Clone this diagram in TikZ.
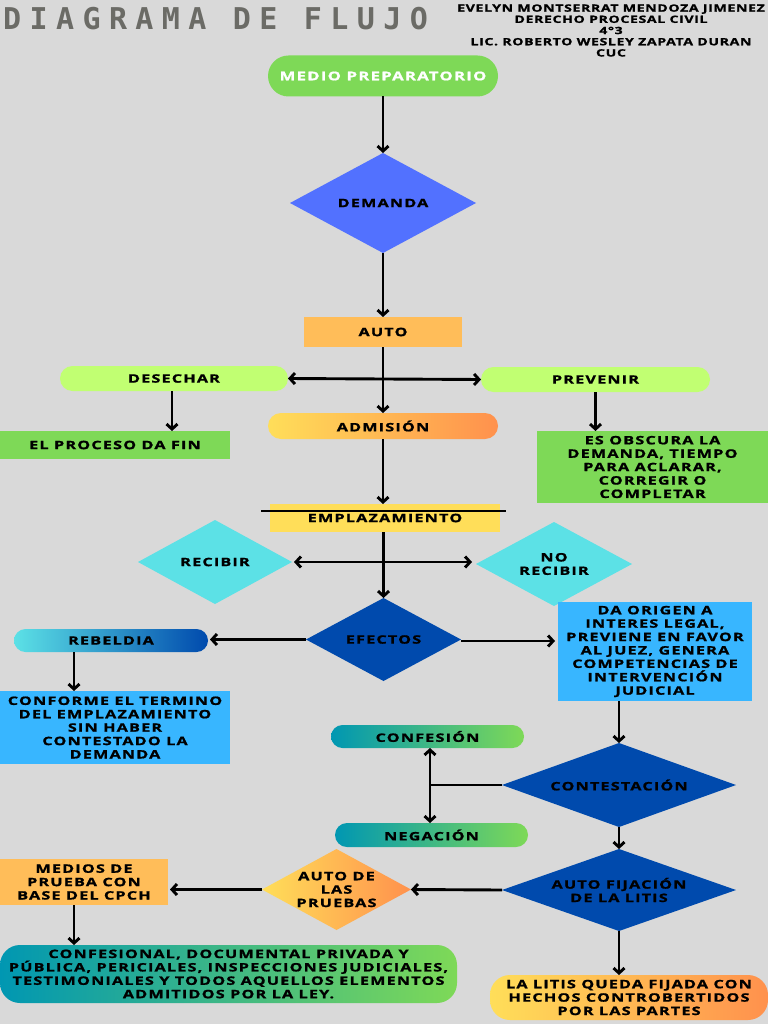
\documentclass[tikz,border=0pt]{standalone}
\usepackage{fontspec}
\usetikzlibrary{shapes.geometric,arrows.meta,calc}
\newfontfamily\bxfont{Open Sans}[FakeStretch=1.4,LetterSpace=10,FakeBold=1.2]
\newfontfamily\hdfont{Open Sans}[FakeStretch=1.4,LetterSpace=6,FakeBold=1.2]
\newfontfamily\ttlfont{DejaVu Sans Mono}[LetterSpace=28]
\definecolor{bg}{HTML}{D9D9D9}
\definecolor{ttl}{HTML}{6B6B66}
\definecolor{cgreen}{HTML}{7ED957}
\definecolor{cblue}{HTML}{5271FF}
\definecolor{corange}{HTML}{FFBD59}
\definecolor{clime}{HTML}{C1FF72}
\definecolor{cyellow}{HTML}{FFDE59}
\definecolor{cdeep}{HTML}{FF914D}
\definecolor{ccyan}{HTML}{5CE1E6}
\definecolor{cnavy}{HTML}{004AAD}
\definecolor{csky}{HTML}{38B6FF}
\definecolor{cteal}{HTML}{0097B2}
\begin{document}
\begin{tikzpicture}[x=1pt,y=-1pt,
  txt/.style={font=\bxfont\bfseries\fontsize{11.6}{13.4}\selectfont, align=center, text=black, inner sep=0pt},
  shp/.style={inner sep=0pt, outer sep=0pt, draw=none},
  rbox/.style n args={2}{shp, rectangle, minimum width=#1, minimum height=#2},
  pill/.style n args={2}{shp, rectangle, rounded corners=#2/2, minimum width=#1, minimum height=#2},
  dia/.style n args={2}{shp, diamond, minimum width=#1, minimum height=#2},
  arr/.style={line width=2.9pt, -{Straight Barb[length=5pt,width=11pt]}},
  darr/.style={line width=2.9pt, {Straight Barb[length=5pt,width=11pt]}-{Straight Barb[length=5pt,width=11pt]}},
  plain/.style={line width=2.9pt}
]
\useasboundingbox (0,0) rectangle (768,1024);
\fill[bg] (0,0) rectangle (768,1024);

% title and header
\node[anchor=west, font=\ttlfont\bfseries\fontsize{30}{30}\selectfont, text=ttl, inner sep=0pt] (title) at (3,19) {DIAGRAMA DE FLUJO};
\node[txt, font=\hdfont\bfseries\fontsize{10.1}{11.2}\selectfont] (header) at (611,30.5)
  {EVELYN MONTSERRAT MENDOZA JIMENEZ\\DERECHO PROCESAL CIVIL\\4°3\\LIC. ROBERTO WESLEY ZAPATA DURAN\\CUC};

% nodes
\node[pill={230}{41}, fill=cgreen, txt, text=white, font=\bxfont\bfseries\fontsize{12}{14}\selectfont] (medio) at (383,76) {MEDIO PREPARATORIO};
\node[dia={186}{100}, fill=cblue, label={[txt,name=demandaT]center:DEMANDA}] (demanda) at (383,203) {};
\node[rbox={158}{30}, fill=corange, txt] (auto) at (383,332) {AUTO};
\node[pill={228}{25}, fill=clime, txt] (desechar) at (174,378.5) {DESECHAR};
\node[pill={229}{25}, fill=clime, txt] (prevenir) at (595.5,379.5) {PREVENIR};
\node[rbox={230}{28}, fill=cgreen, txt] (proceso) at (115,445) {EL PROCESO DA FIN};
\node[rbox={231}{72}, fill=cgreen, txt] (obscura) at (652.5,467) {ES OBSCURA LA\\DEMANDA, TIEMPO\\PARA ACLARAR,\\CORREGIR O\\COMPLETAR};
\node[pill={230}{26}, left color=cyellow, right color=cdeep, txt] (admision) at (383,426) {ADMISIÓN};
\node[rbox={230}{28}, fill=cyellow, txt] (emplaz) at (385,518) {EMPLAZAMIENTO};
\node[dia={154}{84}, fill=ccyan, label={[txt,name=recibirT]center:RECIBIR}] (recibir) at (215,562) {};
\node[dia={156}{84}, fill=ccyan, label={[txt,name=norecibirT]center:{NO\\RECIBIR}}] (norecibir) at (554,564) {};
\node[dia={155}{83}, fill=cnavy, label={[txt,name=efectosT]center:EFECTOS}] (efectos) at (383.5,639.5) {};
\node[pill={194}{23}, left color=ccyan, right color=cnavy, txt] (rebeldia) at (111,640.5) {REBELDIA};
\node[rbox={194}{99}, fill=csky, txt] (daorigen) at (655,651.5) {DA ORIGEN A\\INTERES LEGAL,\\PREVIENE EN FAVOR\\AL JUEZ, GENERA\\COMPETENCIAS DE\\INTERVENCIÓN\\JUDICIAL};
\node[rbox={230}{73}, fill=csky, txt] (conforme) at (115,727.5) {CONFORME EL TERMINO\\DEL EMPLAZAMIENTO\\SIN HABER\\CONTESTADO LA\\DEMANDA};
\node[pill={193}{23}, left color=cteal, right color=cgreen, txt] (confesion) at (427.5,736.5) {CONFESIÓN};
\node[pill={193}{24}, left color=cteal, right color=cgreen, txt] (negacion) at (431.5,835) {NEGACIÓN};
\node[dia={234}{84}, fill=cnavy, label={[txt,name=contestT]center:CONTESTACIÓN}] (contest) at (619,785) {};
\node[dia={234}{82}, fill=cnavy, label={[txt,name=fijacionT]center:{AUTO FIJACIÓN\\DE LA LITIS}}] (fijacion) at (619,890) {};
\node[dia={149}{81}, left color=cyellow, right color=cdeep, label={[txt,name=pruebasT]center:{AUTO DE\\LAS\\PRUEBAS}}] (pruebas) at (336.5,889.5) {};
\node[rbox={168}{46}, fill=corange, txt] (medios) at (84,882) {MEDIOS DE\\PRUEBA CON\\BASE DEL CPCH};
\node[shp, rectangle, rounded corners=20, minimum width=457, minimum height=58, left color=cteal, right color=cgreen, txt] (confesional) at (228.5,974)
  {CONFESIONAL, DOCUMENTAL PRIVADA Y\\PÚBLICA, PERICIALES, INSPECCIONES JUDICIALES,\\TESTIMONIALES Y TODOS AQUELLOS ELEMENTOS\\ADMITIDOS POR LA LEY.};
\node[shp, rectangle, rounded corners=20, minimum width=278, minimum height=45, left color=cyellow, right color=cdeep, txt] (litis) at (629,997.5)
  {LA LITIS QUEDA FIJADA CON\\HECHOS CONTROBERTIDOS\\POR LAS PARTES};

% connectors
\draw[arr] (medio.south) -- (demanda.north);
\draw[arr] (demanda.south) -- (auto.north);
\draw[arr] (auto.south) -- (admision.north);
\draw[darr] (desechar.east) -- (prevenir.west);
\draw[arr] ([xshift=-2pt]desechar.south) -- ([xshift=-2pt]desechar.south |- proceso.north);
\draw[arr] (prevenir.south) -- (prevenir.south |- obscura.north);
\draw[arr] (admision.south) -- (admision.south |- emplaz.north);
\draw[line width=1.6pt] ([shift={(-9,-7)}]emplaz.west) -- ([shift={(6,-7)}]emplaz.east);
\draw[arr] (efectos.north |- emplaz.south) -- (efectos.north);
\draw[darr] ([xshift=2pt]recibir.east) -- ([xshift=-4pt]recibir.east -| norecibir.west);
\draw[arr] (efectos.west) -- ([xshift=2pt]efectos.west -| rebeldia.east);
\draw[arr] ([yshift=-1.5pt]efectos.east) -- ([yshift=-1.5pt,xshift=-3pt]efectos.east -| daorigen.west);
\draw[arr] ([xshift=-37pt]rebeldia.south) -- ([xshift=-37pt]rebeldia.south |- conforme.north);
\draw[arr] (contest.north |- daorigen.south) -- (contest.north);
\coordinate (jx) at (430,785);
\draw[plain] (contest.west) -- (jx);
\draw[darr] (confesion.south -| jx) -- (negacion.north -| jx);
\draw[arr] (contest.south) -- (fijacion.north);
\draw[arr] (fijacion.west) -- (pruebas.east);
\draw[arr] (pruebas.west) -- ([xshift=2pt]pruebas.west -| medios.east);
\draw[arr] ([xshift=-10pt]medios.south) -- ([xshift=-10pt]medios.south |- confesional.north);
\draw[arr] (fijacion.south) -- (fijacion.south |- litis.north);
\end{tikzpicture}
\end{document}
